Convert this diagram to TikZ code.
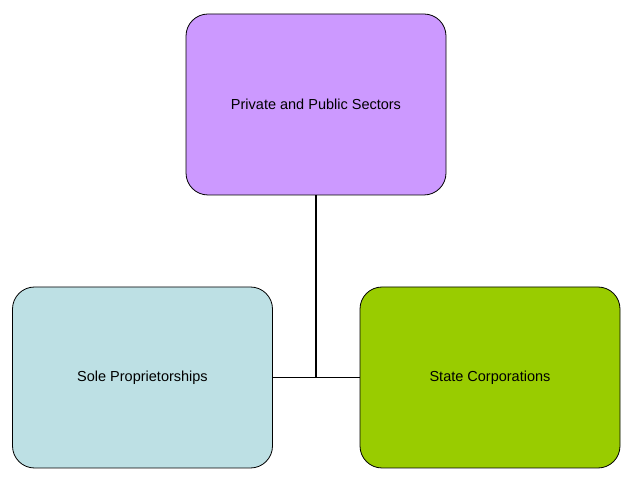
\documentclass[tikz,border=0pt]{standalone}
\usepackage{fontspec}
\setmainfont{Liberation Sans}
\begin{document}
\begin{tikzpicture}[x=1pt,y=-1pt,
  box/.style={draw=black,line width=0.8pt,rounded corners=22pt,minimum width=260pt,minimum height=181pt,font=\fontsize{14.5}{17}\selectfont,inner sep=0pt},
  conn/.style={line width=1.5pt}]
\useasboundingbox (0,0) rectangle (638,478);
\node[box,fill={rgb,255:red,204;green,153;blue,255}] (top) at (316,104.5) {Private and Public Sectors};
\node[box,fill={rgb,255:red,189;green,224;blue,228}] (left) at (142.5,377.5) {Sole Proprietorships};
\node[box,fill={rgb,255:red,153;green,204;blue,0}] (right) at (490,377.5) {State Corporations};
\coordinate (j) at (316,378);
\draw[conn] (top.south) -- (j);
\draw[conn] (left.east) -- (right.west);
\end{tikzpicture}
\end{document}
